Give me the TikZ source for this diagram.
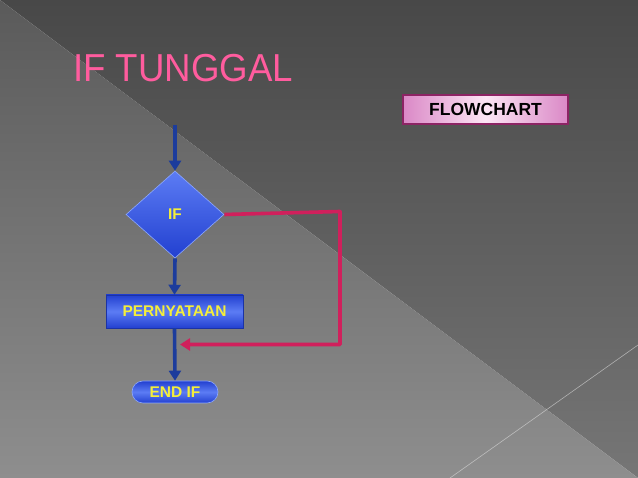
\documentclass[tikz,border=0pt]{standalone}
\usepackage{fontspec}
\setmainfont{Liberation Sans}
\usetikzlibrary{arrows.meta,shapes.geometric,shadows}
\definecolor{bgUT}{HTML}{484848}
\definecolor{bgUB}{HTML}{767676}
\definecolor{bgLT}{HTML}{5A5A5A}
\definecolor{bgLB}{HTML}{8E8E8E}
\definecolor{titlepink}{HTML}{FF5C9E}
\definecolor{pinkedge}{HTML}{DA88C6}
\definecolor{pinkmid}{HTML}{FCE6F5}
\definecolor{pinkborder}{HTML}{8C2464}
\definecolor{arrowblue}{HTML}{1C3C9C}
\definecolor{boxblue}{HTML}{2240D0}
\definecolor{boxlight}{HTML}{5C7CF4}
\definecolor{boxedge}{HTML}{8CA8FF}
\definecolor{txtyellow}{HTML}{F4EE3A}
\definecolor{loopred}{HTML}{D0205C}
\tikzset{
  blockfont/.style={font=\fontsize{15.5}{18}\selectfont\bfseries, text=txtyellow},
  ifbox/.style={diamond, minimum width=98pt, minimum height=87pt, inner sep=0pt,
    top color=boxlight, bottom color=boxblue, draw=boxedge, line width=0.6pt, blockfont},
  stmtbox/.style={rectangle, minimum width=137pt, minimum height=33pt, inner sep=0pt,
    top color=boxblue, bottom color=boxblue, middle color=boxlight, draw=boxblue!80!black, line width=0.5pt, blockfont},
  endbox/.style={rectangle, rounded corners=11pt, minimum width=86pt, minimum height=22pt, inner sep=0pt,
    top color=boxblue, bottom color=boxblue, middle color=boxlight, draw=boxedge, line width=0.6pt, blockfont},
  fcbox/.style={rectangle, minimum width=165pt, minimum height=29pt, inner sep=0pt,
    left color=pinkedge, right color=pinkedge, middle color=pinkmid, draw=pinkborder, line width=1.2pt,
    font=\fontsize{17.5}{20}\selectfont\bfseries, text=black},
  titletext/.style={inner sep=0pt, text=titlepink, font=\fontsize{39}{44}\selectfont},
  bluearrow/.style={draw=arrowblue, line width=3.6pt, -{Triangle[length=10pt,width=12pt]}},
  redarrow/.style={draw=loopred, line width=3.6pt, line join=round, -{Triangle[length=10pt,width=12pt]}},
  lightline/.style={draw=white!75!gray, opacity=0.6, line width=0.6pt}
}
\begin{document}
\begin{tikzpicture}[x=1pt,y=-1pt]
\useasboundingbox (0,0) rectangle (638,478);
% background
\shade[top color=bgUT, bottom color=bgUB] (0,0) -- (638,0) -- (638,478) -- cycle;
\shade[top color=bgLT, bottom color=bgLB] (0,0) -- (0,478) -- (638,478) -- cycle;
\coordinate (la) at (450,478);
\coordinate (lb) at (638,345);
\draw[lightline] (la) -- (lb);
% title
\node[titletext, anchor=base west] (title) at (73,82) {\scalebox{0.94}[1]{IF TUNGGAL}};
% flowchart label
\node[fcbox] (fc) at (485.5,109.5) {FLOWCHART};
% nodes
\coordinate (start) at (175,125);
\node[ifbox] (if) at (175,214.5) {IF};
\node[stmtbox] (st) at (174.5,311.5) {PERNYATAAN};
\node[endbox] (end) at (175,392) {END IF};
% connectors
\draw[bluearrow] (start) -- (if.north);
\draw[bluearrow] (if.south) -- (st.north);
\draw[bluearrow] (st.south) -- (end.north);
\coordinate (c1) at (340,211.5);
\coordinate (c2) at (340,344.5);
\coordinate (join) at (180,344.5);
\draw[redarrow] (if.east) -- (c1) -- (c2) -- (join);
\end{tikzpicture}
\end{document}
